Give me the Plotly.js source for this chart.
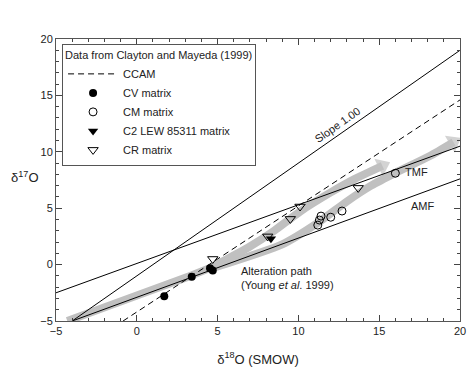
<!DOCTYPE html>
<html>
<head>
<meta charset="utf-8">
<script src="https://cdn.plot.ly/plotly-3.0.1.min.js"></script>
<style>html,body{margin:0;padding:0;background:#fff;}#chart{width:474px;height:387px;}</style>
</head>
<body>
<div id="chart"></div>
<script>
// Reference lines
const slopeX = [-4, 20];      const slopeY = [-5, 19];
const ccamX  = [-0.85, 20];   const ccamY  = [-5, 14.6];
const tmfX   = [-5, 20];      const tmfY   = [-2.5, 10.5];
const amfX   = [-4, 20];      const amfY   = [-5, 7.6];

// Alteration paths (Young et al. 1999)
const pathBaseX  = [-4.3, 3.3, 4.7];
const pathBaseY  = [-5.0, -1.0, -0.2];
const pathUpperX = [4.7, 7.0, 8.5, 10.1, 12.0, 13.5, 15.2];
const pathUpperY = [-0.2, 1.6, 3.0, 4.7, 6.4, 7.6, 8.75];
const pathLowerX = [4.7, 9.0, 11.2, 13.0, 14.5, 16.1, 18.1, 19.6];
const pathLowerY = [-0.3, 1.8, 3.7, 5.6, 7.0, 8.2, 9.6, 10.85];

// Data from Clayton and Mayeda (1999)
const cvX = [1.7, 3.4, 4.53, 4.7];
const cvY = [-2.8, -1.07, -0.32, -0.53];
const cmX = [11.2, 11.3, 11.4, 12.0, 12.7, 16.0];
const cmY = [3.5, 3.95, 4.3, 4.2, 4.75, 8.1];
const c2X = [8.3];
const c2Y = [2.3];
const crX = [4.7, 8.1, 9.5, 10.1, 13.7];
const crY = [0.5, 2.5, 4.05, 5.15, 6.8];

const FONT = 'Arial, "Liberation Sans", sans-serif';
const GRAY = 'rgb(192,192,192)';

function band(xs, ys) {
  return {
    x: xs, y: ys, type: 'scatter', mode: 'lines',
    line: {color: GRAY, width: 8, shape: 'spline', smoothing: 0.6},
    showlegend: false, hoverinfo: 'skip'
  };
}
function head(xs, ys) {
  const n = xs.length;
  return {
    x: [xs[n - 2], xs[n - 1]], y: [ys[n - 2], ys[n - 1]],
    type: 'scatter', mode: 'markers',
    marker: {symbol: ['circle', 'triangle-up'], size: [0, 17], color: GRAY,
             angleref: 'previous', line: {width: 0}},
    showlegend: false, hoverinfo: 'skip'
  };
}

const thin = (xs, ys) => ({x: xs, y: ys, type: 'scatter', mode: 'lines',
  line: {color: '#000', width: 1}, showlegend: false, hoverinfo: 'skip'});

const traces = [
  band(pathBaseX, pathBaseY),
  band(pathUpperX, pathUpperY),
  band(pathLowerX, pathLowerY),
  head(pathUpperX, pathUpperY),
  head(pathLowerX, pathLowerY),
  thin(slopeX, slopeY),
  thin(tmfX, tmfY),
  thin(amfX, amfY),
  {x: ccamX, y: ccamY, type: 'scatter', mode: 'lines', name: 'CCAM',
   line: {color: '#000', width: 1, dash: '6px,4px'}},
  {x: cvX, y: cvY, type: 'scatter', mode: 'markers', name: 'CV matrix',
   marker: {symbol: 'circle', size: 8, color: '#000'}},
  {x: cmX, y: cmY, type: 'scatter', mode: 'markers', name: 'CM matrix',
   marker: {symbol: 'circle-open', size: 8, color: '#000', line: {width: 1, color: '#000'}}},
  {x: c2X, y: c2Y, type: 'scatter', mode: 'markers', name: 'C2 LEW 85311 matrix',
   marker: {symbol: 'triangle-down', size: 9, color: '#000'}},
  {x: crX, y: crY, type: 'scatter', mode: 'markers', name: 'CR matrix',
   marker: {symbol: 'triangle-down-open', size: 9, color: '#000', line: {width: 1, color: '#000'}}}
];

const axisBase = {
  range: [-5, 20], dtick: 5, tick0: 0,
  ticks: 'inside', ticklen: 6, tickwidth: 1, tickcolor: '#444',
  minor: {dtick: 1, ticks: 'inside', ticklen: 3, tickcolor: '#444'},
  showline: true, linecolor: '#555', linewidth: 1, mirror: 'allticks',
  showgrid: false, zeroline: false,
  tickfont: {family: FONT, size: 11, color: '#222'}
};

const layout = {
  width: 474, height: 387,
  margin: {l: 56, r: 14, t: 39, b: 66},
  paper_bgcolor: '#fff', plot_bgcolor: '#fff',
  font: {family: FONT, size: 11, color: '#222'},
  xaxis: Object.assign({}, axisBase, {
    title: {text: 'δ<sup>18</sup>O (SMOW)', font: {family: FONT, size: 13, color: '#222'}, standoff: 18}
  }),
  yaxis: Object.assign({}, axisBase, {}),
  legend: {
    x: 0.015, y: 0.982, xanchor: 'left', yanchor: 'top',
    bgcolor: '#fff', bordercolor: '#555', borderwidth: 1,
    font: {family: FONT, size: 11, color: '#222'},
    title: {text: 'Data from Clayton and Mayeda (1999)', font: {family: FONT, size: 11, color: '#222'}},
    itemwidth: 50, tracegroupgap: 0
  },
  annotations: [
    {xref: 'paper', yref: 'paper', x: -0.077, y: 0.51, xanchor: 'center', yanchor: 'middle',
     text: 'δ<sup>17</sup>O', showarrow: false, font: {family: FONT, size: 13, color: '#222'}},
    {x: 12.4, y: 12.4, text: 'Slope 1.00', textangle: -35, showarrow: false,
     font: {family: FONT, size: 11, color: '#222'}},
    {x: 17.3, y: 8.25, text: 'TMF', showarrow: false, font: {family: FONT, size: 11, color: '#222'}},
    {x: 17.7, y: 5.2, text: 'AMF', showarrow: false, font: {family: FONT, size: 11, color: '#222'}},
    {x: 6.3, y: -1.2, xanchor: 'left', align: 'left', showarrow: false,
     text: 'Alteration path<br>(Young <i>et al</i>. 1999)', font: {family: FONT, size: 11, color: '#222'}}
  ]
};

Plotly.newPlot('chart', traces, layout, {staticPlot: true, displayModeBar: false});
</script>
</body>
</html>
